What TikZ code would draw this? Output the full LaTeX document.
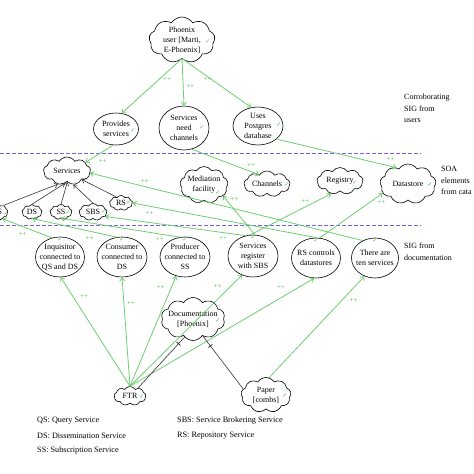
\documentclass[tikz,border=0pt]{standalone}
\usepackage{fontspec}
\setmainfont{Liberation Serif}
\newfontfamily\djv{DejaVu Sans}
\usetikzlibrary{shapes.geometric,shapes.symbols,arrows.meta}
\definecolor{lg}{RGB}{110,205,110}
\definecolor{pg}{RGB}{80,185,80}
\definecolor{sepcol}{RGB}{115,100,235}
\newcommand{\ckm}{{\djv\fontsize{6}{6}\selectfont\color{pg}✓}}
\begin{document}
\begin{tikzpicture}[x=1pt,y=-1pt,
  every node/.style={font=\fontsize{8}{10}\selectfont, align=center},
  ell/.style={draw, ellipse, line width=0.6pt, inner xsep=-4pt, inner ysep=-3pt},
  cld/.style={draw, cloud, cloud puffs=9, cloud puff arc=115, cloud ignores aspect, line width=0.6pt, inner xsep=-3pt, inner ysep=-3pt},
  ckl/.style={inner sep=0pt},
  ck/.style 2 args={label={[ckl,xshift=#1,yshift=#2]center:\ckm}},
  gl/.style={draw=lg, line width=0.8pt, -{Straight Barb[length=3pt,width=5pt]}},
  bl/.style={draw=black!80, line width=0.6pt, -{Straight Barb[length=3pt,width=5pt]}},
  blt/.style={draw=black!80, line width=0.6pt},
  pp/.style={text=pg, font=\fontsize{7}{7}\selectfont, inner sep=0pt},
  sepline/.style={draw=sepcol, line width=1.1pt, dash pattern=on 3.5pt off 2.5pt},
  note/.style={anchor=north west, align=left, font=\fontsize{8}{11.5}\selectfont, inner sep=0pt},
  leg/.style={anchor=west, inner sep=0pt, font=\fontsize{8.2}{10}\selectfont}
]
\useasboundingbox (0,0) rectangle (474,474);
\clip (0,0) rectangle (474,474);

% separators
\draw[sepline] (0,153.5) -- (421,153.5);
\draw[sepline] (0,225.5) -- (421,225.5);

% top SIG from users
\node[cld, minimum width=66, minimum height=46, ck={26}{-2}] (user) at (182,40) {Phoenix\\user [Marti,\\E-Phoenix]};
\node[ell, minimum width=45, minimum height=32, ck={17}{-2}] (prov) at (116,129) {Provides\\services};
\node[ell, minimum width=50, minimum height=44, ck={18}{0}] (need) at (184,128) {Services\\need\\channels};
\node[ell, minimum width=50, minimum height=38, ck={21}{1}] (post) at (258,126) {Uses\\Postgres\\database};

% SOA elements
\node[cld, minimum width=47, minimum height=28] (serv) at (67,171) {Services};
\node[cld, minimum width=22, minimum height=16, ck={9}{-2}] (qs) at (-3,212) {QS};
\node[cld, minimum width=20, minimum height=15] (ds) at (32,212) {DS};
\node[cld, minimum width=22, minimum height=15, ck={7}{-1}] (ss) at (61,212) {SS};
\node[cld, minimum width=28, minimum height=17, ck={11}{0}] (sbs) at (93,212) {SBS};
\node[cld, minimum width=23, minimum height=15, ck={8}{0}] (rs) at (121,203) {RS};
\node[cld, minimum width=48, minimum height=37, ck={14}{-8}] (med) at (204,185) {Mediation\\facility};
\node[cld, minimum width=46, minimum height=26, ck={20}{-1}] (chan) at (267,184) {Channels};
\node[cld, minimum width=46, minimum height=27, ck={15}{-2}] (regy) at (340,181) {Registry};
\node[cld, minimum width=56, minimum height=40, ck={22}{-1}] (data) at (408,184) {Datastore};

% SIG from documentation
\node[ell, minimum width=49, minimum height=40, ck={0}{17}] (inq) at (60,257) {Inquisitor\\connected to\\QS and DS};
\node[ell, minimum width=50, minimum height=40, ck={0}{17}] (cons) at (122,257) {Consumer\\connected to\\DS};
\node[ell, minimum width=50, minimum height=40, ck={0}{17}] (prod) at (185,257) {Producer\\connected to\\SS};
\node[ell, minimum width=50, minimum height=42, ck={0}{18}] (regsbs) at (253,256) {Services\\register\\with SBS};
\node[ell, minimum width=49, minimum height=40, ck={0}{17}] (rsc) at (316,258) {RS controls\\datastores};
\node[ell, minimum width=47, minimum height=40, ck={0}{17}] (ten) at (375,258) {There are\\ten services};

% sources
\node[cld, cloud puffs=10, inner ysep=-5pt, inner xsep=-4pt, minimum width=64, minimum height=43, ck={25}{-2}] (doc) at (193,319) {Documentation\\{[}Phoenix{]}};
\node[cld, minimum width=32, minimum height=19, ck={12}{-1}] (ftr) at (130,396) {FTR};
\node[cld, minimum width=50, minimum height=35, ck={19}{-1}] (paper) at (266,395) {Paper\\{[}combs{]}};

% side notes
\node[note] (ncorr) at (404,94) {Corroborating\\SIG from\\users};
\node[note] (nsoa) at (441,166) {SOA\\elements\\from cata};
\node[note] (ndoc) at (404,243) {SIG from\\documentation};

% legend
\node[leg] (lqs) at (37,421) {QS: Query Service};
\node[leg] (lds) at (37,436) {DS: Dissemination Service};
\node[leg] (lss) at (37,451) {SS: Subscription Service};
\node[leg] (lsbs) at (177,421) {SBS: Service Brokering Service};
\node[leg] (lrs) at (177,436) {RS: Repository Service};

% green contributions, users
\draw[gl] (user.south) -- node[pp,pos=.38,shift={(8,0)}]{++} (prov.70);
\draw[gl] (user.south) -- node[pp,pos=.6,shift={(7,0)}]{++} (need.north);
\draw[gl] (user.south) -- node[pp,pos=.33,shift={(3,5)}]{++} (post.110);
\draw[gl] (prov.-100) -- node[pp,pos=.6,shift={(6,6)}]{++} (serv.25);
\draw[gl] (need.-70) -- node[pp,pos=.88,shift={(0,-6)}]{++} (chan.130);
\draw[gl] (post.-35) -- node[pp,pos=.95,shift={(0,-7)}]{++} (data.125);

% green contributions, documentation to SOA
\draw[gl] (inq.113) -- node[pp,pos=.6,shift={(0,8)}]{++} (qs.-50);
\draw[gl] (cons.105) -- node[pp,pos=.32,shift={(0,7)}]{++} (ds.south);
\draw[gl] (prod.105) -- node[pp,pos=.17,shift={(0,6)}]{++} (ss.south);
\draw[gl] (regsbs.110) -- node[pp,pos=.16,shift={(0,6)}]{++} (sbs.-20);
\draw[gl] (rsc.88) -- node[pp,pos=.91,shift={(0,7)}]{++} (rs.east);
\draw[gl] (ten.125) -- node[pp,pos=.8,shift={(0,-5)}]{++} (serv.-5);
\draw[gl] (regsbs.85) -- node[pp,pos=.9,shift={(8,0)}]{++} (med.-30);
\draw[gl] (regsbs.97) -- node[pp,pos=.68,shift={(0,-5)}]{++} (regy.-125);
\draw[gl] (rsc.80) -- node[pp,pos=.93,shift={(3,6)}]{++} (data.200);

% green contributions, sources
\draw[gl] (ftr.north) -- node[pp,pos=.82,shift={(11,0)}]{++} (inq.-88);
\draw[gl] (ftr.north) -- node[pp,pos=.76,shift={(7,0)}]{++} (cons.-90);
\draw[gl] (ftr.north) -- node[pp,pos=.9,shift={(-11,0)}]{++} (prod.-115);
\draw[gl] (ftr.north) -- node[pp,pos=.82,shift={(-4,-9)}]{++} (regsbs.-120);
\draw[gl] (ftr.north) -- node[pp,pos=.82,shift={(0,-10)}]{++} (rsc.-95);
\draw[gl] (paper.80) -- node[pp,pos=.76,shift={(12,0)}]{++} (ten.-120);

% black links
\draw[blt] (ftr.45) -- node[pos=.87,sloped,inner sep=0pt]{\rule{0.6pt}{5pt}} (doc.-115);
\draw[blt] (paper.165) -- node[pos=.81,sloped,inner sep=0pt]{\rule{0.6pt}{5pt}} (doc.-60);
\draw[bl] (qs.45) -- (serv.-125);
\draw[bl] (ds.north) -- (serv.-100);
\draw[bl] (ss.north) -- (serv.-88);
\draw[bl] (sbs.north) -- (serv.-65);
\draw[bl] (rs.130) -- (serv.-30);
\end{tikzpicture}
\end{document}
